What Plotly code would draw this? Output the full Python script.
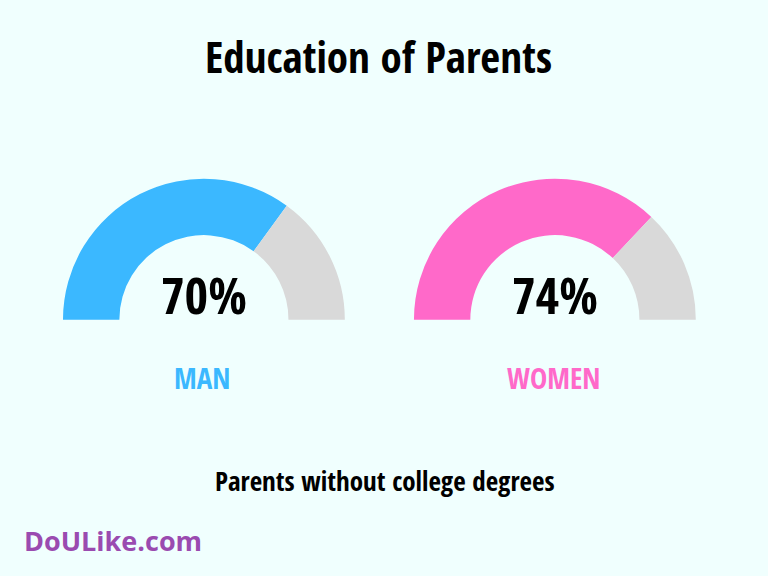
import plotly.graph_objects as go

# data
groups = ["MAN", "WOMEN"]
percents = [70, 74]
group_colors = ["#3BB8FF", "#FF69C9"]
rest_color = "#D9D9D9"
bg = "#F0FFFE"

title = "Education of Parents"
subtitle = "Parents without college degrees"
brand = "DoULike.com"

narrow = "Open Sans Condensed, Roboto Condensed, DejaVu Sans Condensed, sans-serif"


def label(fig, x, y, text, size, color, family=narrow):
    fig.add_annotation(x=x, y=y, xref="paper", yref="paper",
                       xanchor="center", yanchor="middle",
                       text=f"<b>{text}</b>", showarrow=False,
                       font=dict(family=family, size=size, color=color))


fig = go.Figure()

# one half-donut per group (hidden slice makes the bottom half)
domains_x = [[0.082, 0.449], [0.539, 0.906]]
label_x = [0.2655, 0.7225]
for i, (g, p) in enumerate(zip(groups, percents)):
    fig.add_trace(go.Pie(
        values=[p, 100 - p, 100],
        marker=dict(colors=[group_colors[i], rest_color, "rgba(0,0,0,0)"],
                    line=dict(width=0)),
        hole=0.6,
        sort=False,
        direction="clockwise",
        rotation=-90,
        textinfo="none",
        hoverinfo="skip",
        showlegend=False,
        domain=dict(x=domains_x[i], y=[0.2, 0.69]),
    ))
    label(fig, label_x[i], 0.49, f"{p}%", 51, "black")   # big percent in the middle
    label(fig, label_x[i] - 0.002, 0.344, g, 29, group_colors[i])  # group name

label(fig, 0.493, 0.902, title, 43, "black")
label(fig, 0.5, 0.165, subtitle, 27, "black")
label(fig, 0.147, 0.0625, brand, 27, "#9A4BB0", family="Open Sans, sans-serif")

fig.update_layout(
    width=768, height=576,
    margin=dict(l=0, r=0, t=0, b=0),
    paper_bgcolor=bg,
    plot_bgcolor=bg,
)

fig.write_html("out.html", config={"displayModeBar": False},
               post_script="document.body.style.margin='0';")
